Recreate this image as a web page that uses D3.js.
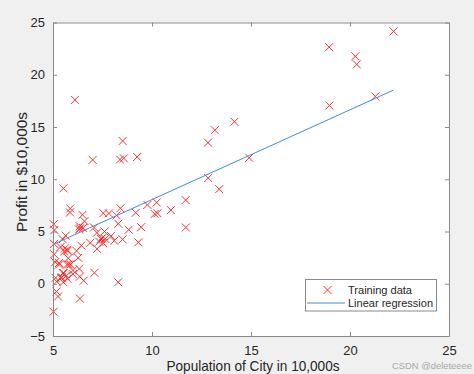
<!DOCTYPE html>
<html><head><meta charset="utf-8">
<script src="https://cdn.jsdelivr.net/npm/d3@7/dist/d3.min.js"></script>
<style>html,body{margin:0;padding:0;background:#f0f0f0;}svg{display:block;}</style>
</head><body>
<svg id="c" width="474" height="374"></svg>
<script>
const population = [6.1101,5.5277,8.5186,7.0032,5.8598,8.3829,7.4764,8.5781,6.4862,5.0546,5.7107,14.164,5.734,8.4084,5.6407,5.3794,6.3654,5.1301,6.4296,7.0708,6.1891,20.27,5.4901,6.3261,5.5649,18.945,12.828,10.957,13.176,22.203,5.2524,6.5894,9.2482,5.8918,8.2111,7.9334,8.0959,5.6063,12.836,6.3534,5.4069,6.8825,11.708,5.7737,7.8247,7.0931,5.0702,5.8014,11.7,5.5416,7.5402,5.3077,7.4239,7.6031,6.3328,6.3589,6.2742,5.6397,9.3102,9.4536,8.8254,5.1793,21.279,14.908,18.959,7.2182,8.2951,10.236,5.4994,20.341,10.136,7.3345,6.0062,7.2259,5.0269,6.5479,7.5386,5.0365,10.274,5.1077,5.7292,5.1884,6.3557,9.7687,6.5159,8.5172,9.1802,6.002,5.5204,5.0594,5.7077,7.6366,5.8707,5.3054,8.2934,13.394,5.4369];
const profit = [17.592,9.1302,13.662,11.854,6.8233,11.886,4.3483,12,6.5987,3.8166,3.2522,15.505,3.1551,7.2258,0.71618,3.5129,5.3048,0.56077,3.6518,5.3893,3.1386,21.767,4.263,5.1875,3.0825,22.638,13.501,7.0467,14.692,24.147,-1.22,5.9966,12.134,1.8495,6.5426,4.5623,4.1164,3.3928,10.117,5.4974,0.55657,3.9115,5.3854,2.4406,6.7318,1.0463,5.1337,1.844,8.0043,1.0179,6.7504,1.8396,4.2885,4.9981,1.4233,-1.4211,2.4756,4.6042,3.9624,5.4141,5.1694,-0.74279,17.929,12.054,17.054,4.8852,5.7442,7.7754,1.0173,20.992,6.6799,4.0259,1.2784,3.3411,-2.6807,0.29678,3.8845,5.7014,6.7526,2.0576,0.47953,0.20421,0.67861,7.5435,5.3436,4.2415,6.7981,0.92695,0.152,2.8214,1.8451,4.2959,7.2029,1.9869,0.14454,9.0551,0.61705];
const fitX = [5.0269, 22.203];
const fitY = [3.78, 18.54];
const xTicks = [5,10,15,20,25];
const yTicks = [-5,0,5,10,15,20,25];
const legendLabels = ["Training data","Linear regression"];

const svg = d3.select("#c");
const L=53, R=449, T=22.5, B=336;
const x = d3.scaleLinear().domain([5,25]).range([L,R]);
const y = d3.scaleLinear().domain([-5,25]).range([B,T]);
const font = "'Liberation Sans', Arial, sans-serif";
const axisCol = "#8a8a8a";

svg.append("rect").attr("width",474).attr("height",374).attr("fill","#f0f0f0");
svg.append("rect").attr("x",L).attr("y",T).attr("width",R-L).attr("height",B-T).attr("fill","#fff");

// points
const pts = svg.append("g");
const s = 4;
population.forEach((px,i)=>{
  const cx = x(px), cy = y(profit[i]);
  pts.append("path").attr("d",`M${cx-s},${cy-s}L${cx+s},${cy+s}M${cx-s},${cy+s}L${cx+s},${cy-s}`)
    .attr("stroke","#ff1a1a").attr("stroke-width",0.9).attr("fill","none");
});

// regression line
svg.append("path").datum(fitX.map((v,i)=>[v,fitY[i]]))
  .attr("d",d3.line().x(d=>x(d[0])).y(d=>y(d[1])))
  .attr("stroke","#3f8fcf").attr("stroke-width",1).attr("fill","none");

// axes (ticks inside)
const tl = 4;
const axB = svg.append("g").attr("transform",`translate(0,${B})`)
  .call(d3.axisBottom(x).tickValues(xTicks).tickSize(-tl).tickSizeOuter(0).tickPadding(10));
const axT = svg.append("g").attr("transform",`translate(0,${T})`)
  .call(d3.axisTop(x).tickValues(xTicks).tickSize(-tl).tickSizeOuter(0).tickFormat(""));
const axL = svg.append("g").attr("transform",`translate(${L},0)`)
  .call(d3.axisLeft(y).tickValues(yTicks).tickSize(-tl).tickSizeOuter(0).tickPadding(8));
const axR = svg.append("g").attr("transform",`translate(${R},0)`)
  .call(d3.axisRight(y).tickValues(yTicks).tickSize(-tl).tickSizeOuter(0).tickFormat(""));
[axB,axT,axL,axR].forEach(a=>{
  a.select(".domain").attr("stroke",axisCol);
  a.selectAll(".tick line").attr("stroke",axisCol);
  a.selectAll(".tick text").attr("fill","#262626").attr("font-family",font).attr("font-size",13);
});

// labels
svg.append("text").attr("x",253).attr("y",371).attr("text-anchor","middle")
  .attr("font-family",font).attr("font-size",15).attr("fill","#262626")
  .attr("textLength",173).attr("lengthAdjust","spacingAndGlyphs")
  .text("Population of City in 10,000s");
svg.append("text").attr("transform",`translate(27,172) rotate(-90)`).attr("text-anchor","middle")
  .attr("font-family",font).attr("font-size",15).attr("fill","#262626")
  .attr("textLength",120).attr("lengthAdjust","spacingAndGlyphs")
  .text("Profit in $10,000s");

// legend
const lg = svg.append("g");
lg.append("rect").attr("x",305.5).attr("y",279.5).attr("width",131).attr("height",31.5)
  .attr("fill","#fff").attr("stroke","#8a8a8a").attr("stroke-width",1);
const mx=327.5, my=290;
lg.append("path").attr("d",`M${mx-s},${my-s}L${mx+s},${my+s}M${mx-s},${my+s}L${mx+s},${my-s}`)
  .attr("stroke","#ff1a1a").attr("stroke-width",0.9);
lg.append("line").attr("x1",307).attr("x2",345).attr("y1",303).attr("y2",303)
  .attr("stroke","#3f8fcf").attr("stroke-width",1);
legendLabels.forEach((t,i)=>{
  lg.append("text").attr("x",348).attr("y",[290,303][i]).attr("dy","0.35em")
    .attr("font-family",font).attr("font-size",11.5).attr("fill","#262626")
    .attr("textLength",[64,85][i]).attr("lengthAdjust","spacingAndGlyphs").text(t);
});

// watermark
svg.append("text").attr("x",472).attr("y",369).attr("text-anchor","end")
  .attr("font-family",font).attr("font-size",9).attr("fill","#a8a8a8")
  .attr("textLength",80).attr("lengthAdjust","spacingAndGlyphs").text("CSDN @deleteeee");
</script>
</body></html>
